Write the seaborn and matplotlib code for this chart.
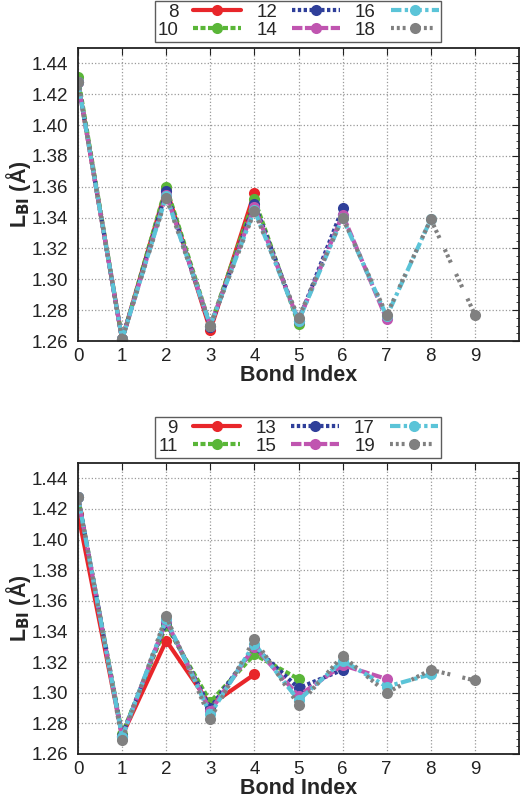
import numpy as np
import matplotlib
matplotlib.use("Agg")
import matplotlib.pyplot as plt
import seaborn as sns
from matplotlib.ticker import MultipleLocator

# even chains (top panel)
even_labels = ['8', '10', '12', '14', '16', '18']
L8 = [1.428, 1.261, 1.359, 1.267, 1.356]
L10 = [1.431, 1.261, 1.360, 1.270, 1.352, 1.271]
L12 = [1.428, 1.261, 1.357, 1.269, 1.349, 1.273, 1.346]
L14 = [1.428, 1.261, 1.355, 1.270, 1.347, 1.273, 1.342, 1.274]
L16 = [1.428, 1.261, 1.354, 1.270, 1.345, 1.273, 1.340, 1.276, 1.339]
L18 = [1.428, 1.261, 1.353, 1.270, 1.344, 1.275, 1.340, 1.277, 1.339, 1.277]

# odd chains (bottom panel)
odd_labels = ['9', '11', '13', '15', '17', '19']
L9 = [1.417, 1.272, 1.334, 1.292, 1.312]
L11 = [1.428, 1.273, 1.344, 1.294, 1.325, 1.309]
L13 = [1.428, 1.272, 1.346, 1.290, 1.330, 1.303, 1.315]
L15 = [1.428, 1.271, 1.347, 1.288, 1.330, 1.298, 1.318, 1.309]
L17 = [1.428, 1.271, 1.348, 1.286, 1.332, 1.295, 1.321, 1.304, 1.312]
L19 = [1.428, 1.269, 1.350, 1.283, 1.335, 1.292, 1.324, 1.300, 1.315, 1.308]

colors = ['#e8262a', '#5ab638', '#2f3f9a', '#c055b0', '#5bc4d8', '#808080']
styles = ['-', (0, (1.2, 0.6)), (0, (0.8, 0.6)), (0, (2.5, 0.6)),
          (0, (2.5, 0.8, 0.8, 0.8)), (0, (0.7, 0.7, 0.7, 0.7, 0.7, 3))]

sns.set_style('white')
plt.rcParams['font.family'] = ['Liberation Sans', 'DejaVu Sans']

fig = plt.figure(figsize=(5.2, 8.02), dpi=100)
ax_top = fig.add_axes([78 / 520, 1 - 341 / 802, 441 / 520, 293 / 802])
ax_bot = fig.add_axes([78 / 520, 1 - 754 / 802, 441 / 520, 291 / 802])


def draw(ax, series, labels, legend_top):
    for vals, lab, c, ls in zip(series, labels, colors, styles):
        sns.lineplot(x=np.arange(len(vals)), y=vals, ax=ax, color=c,
                     linestyle=ls, linewidth=3, marker='o', markersize=8,
                     markeredgewidth=0, label=lab)
    ax.set_xlim(0, 10)
    ax.set_ylim(1.26, 1.45)
    ax.set_xticks(range(10))
    yt = np.arange(1.26, 1.441, 0.02)
    ax.set_yticks(yt)
    ax.set_yticklabels([f'{v:.2f}' for v in yt])
    ax.yaxis.set_minor_locator(MultipleLocator(0.005))
    ax.tick_params(axis='both', which='both', direction='in', top=True,
                   right=True, labelsize=13.5, pad=7, colors='#222222')
    ax.tick_params(axis='x', pad=5)
    ax.tick_params(axis='y', which='minor', length=2.5)
    ax.tick_params(axis='both', which='major', length=5)
    ax.grid(True, color='#999999', linestyle=':', linewidth=0.9)
    for sp in ax.spines.values():
        sp.set_color('#222222')
        sp.set_linewidth(1.3)
    ax.set_xlabel('Bond Index', fontsize=15.5, fontweight='bold', labelpad=0)
    ax.set_ylabel('L$_{\\mathbf{BI}}$ (Å)', fontsize=15.5, fontweight='bold')
    ax.yaxis.set_label_coords(-0.103, 0.5)
    h, l = ax.get_legend_handles_labels()
    ax.legend_.remove()
    fig.legend(h, l, ncol=3, loc='upper center',
               bbox_to_anchor=(298 / 520, legend_top), markerfirst=False,
               fontsize=13.5, frameon=True, fancybox=False,
               edgecolor='#333333', handlelength=2.55, columnspacing=0.8,
               handletextpad=0.8, borderpad=0.15, labelspacing=0.05,
               borderaxespad=0)


draw(ax_top, [L8, L10, L12, L14, L16, L18], even_labels, 1 - 1 / 802)
draw(ax_bot, [L9, L11, L13, L15, L17, L19], odd_labels, 1 - 417 / 802)

fig.savefig('out.png', dpi=100)
